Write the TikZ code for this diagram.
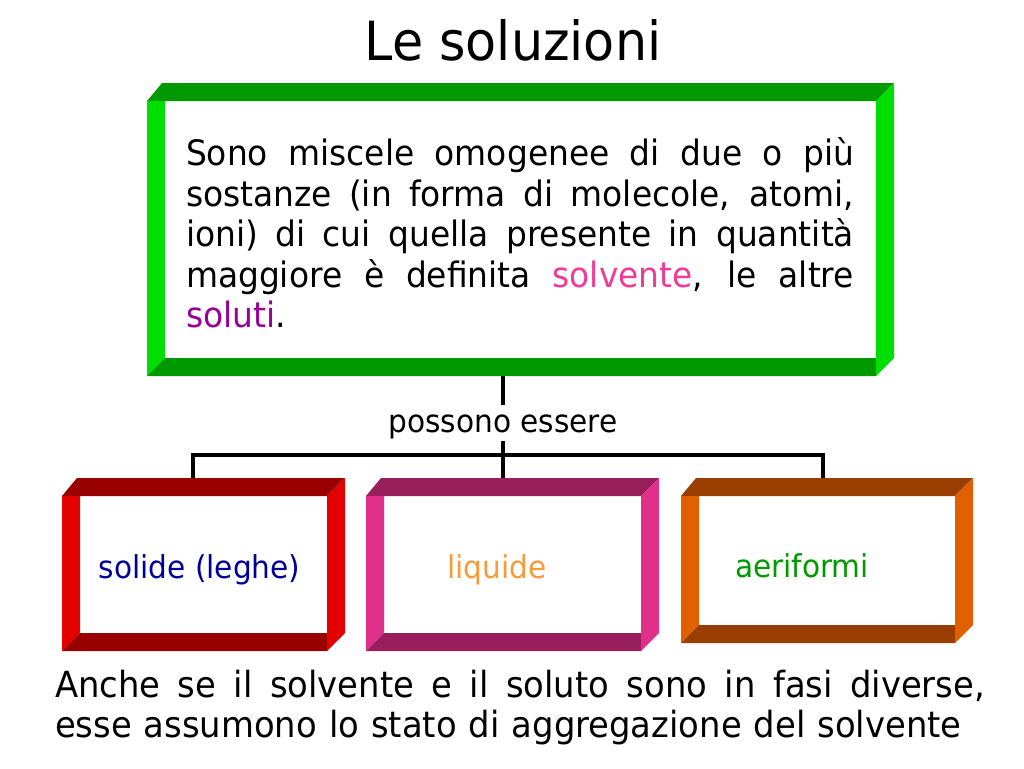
\documentclass[tikz,border=0pt]{standalone}
\usepackage{fontspec}
\setmainfont{DejaVu Sans}[FakeStretch=0.94]
\usetikzlibrary{calc}
\definecolor{gdark}{RGB}{0,153,0}
\definecolor{glight}{RGB}{0,221,0}
\definecolor{rdark}{RGB}{153,0,0}
\definecolor{rlight}{RGB}{226,0,0}
\definecolor{mdark}{RGB}{153,31,92}
\definecolor{mlight}{RGB}{224,48,138}
\definecolor{odark}{RGB}{153,61,0}
\definecolor{olight}{RGB}{224,96,0}
\definecolor{solvcol}{RGB}{240,60,150}
\definecolor{solucol}{RGB}{153,0,153}
\definecolor{navycol}{RGB}{0,0,153}
\definecolor{liqcol}{RGB}{245,155,60}
\definecolor{aercol}{RGB}{0,153,0}
\newlength\bevd \setlength\bevd{18pt}
\newcommand\fsz[2]{\fontsize{#1}{#2}\selectfont}
\newcommand\jline[2]{\hbox to #1{\spaceskip=0.318em plus 1fil\relax #2}}
\newcommand\bevelframe[3]{%
  \fill[#2] ($(#1.north west)+(-3pt,\bevd)$) -- ($(#1.north east)+(\bevd,\bevd)$) -- (#1.north east) -- ($(#1.north west)+(-\bevd,0pt)$) -- cycle;
  \fill[#3] ($(#1.north west)+(-\bevd,0pt)$) -- (#1.north west) -- (#1.south west) -- ($(#1.south west)+(-\bevd,-\bevd)$) -- cycle;
  \fill[#2] ($(#1.south west)+(-\bevd,-\bevd)$) -- (#1.south west) -- (#1.south east) -- ($(#1.south east)+(0pt,-\bevd)$) -- cycle;
  \fill[#3] (#1.north east) -- ($(#1.north east)+(\bevd,\bevd)$) -- ($(#1.south east)+(\bevd,0pt)$) -- ($(#1.south east)+(0pt,-\bevd)$) -- cycle;
}
\begin{document}
\begin{tikzpicture}[x=1pt,y=-1pt,
  plain/.style={inner sep=0pt, outer sep=0pt},
  boxnode/.style={plain},
  label/.style={plain, anchor=base, font=\fsz{31.5}{36}},
  conn/.style={line width=3.2pt, black}]
\fill[white] (0,0) rectangle (1024,768);
\useasboundingbox (0,0) rectangle (1024,768);
% title
\node[plain, anchor=base, font=\fsz{54}{60}] (title) at (513,60) {Le soluzioni};
% boxes (inner areas)
\node[boxnode, minimum width=711pt, minimum height=257pt] (def) at (520.5,229.5) {};
\node[boxnode, minimum width=247pt, minimum height=137pt] (sol) at (203.5,564.5) {};
\node[boxnode, minimum width=257pt, minimum height=137pt] (liq) at (512.5,564.5) {};
\node[boxnode, minimum width=256pt, minimum height=129pt] (aer) at (827,560.5) {};
% texts
\node[plain, anchor=base west, text width=668pt, font=\fsz{35}{40.5}] (deftext) at (186,165.5)
  {\jline{668pt}{Sono miscele omogenee di due o più}\par
   \jline{668pt}{sostanze (in forma di molecole, atomi,}\par
   \jline{668pt}{ioni) di cui quella presente in quantità}\par
   \jline{668pt}{maggiore è definita \textcolor{solvcol}{solvente}, le altre}\par
   \hbox{\textcolor{solucol}{soluti}.}};
\node[plain, anchor=base, font=\fsz{31.5}{36}, text height=27pt, text depth=9pt] (pos) at (503,432) {possono essere};
\node[label, text=navycol] (lsol) at (199.5,578) {solide (leghe)};
\node[label, text=liqcol] (lliq) at (497,578) {liquide};
\node[label, text=aercol] (laer) at (802,577) {aeriformi};
\node[plain, anchor=base west, text width=930pt, font=\fsz{36}{40}] (note) at (55,697)
  {\jline{930pt}{Anche se il solvente e il soluto sono in fasi diverse,}\par
   \hbox{esse assumono lo stato di aggregazione del solvente}};
% connectors
\coordinate (busL) at (193,455);
\coordinate (busR) at (823,455);
\draw[conn] (pos.north) -- (pos.north |- def.south);
\draw[conn] (pos.south) -- (pos.south |- liq.north);
\draw[conn] (busL |- sol.north) -- (busL) -- (busR) -- (busR |- aer.north);
% bevel frames
\bevelframe{def}{gdark}{glight}
\bevelframe{sol}{rdark}{rlight}
\bevelframe{liq}{mdark}{mlight}
\bevelframe{aer}{odark}{olight}
\end{tikzpicture}
\end{document}
